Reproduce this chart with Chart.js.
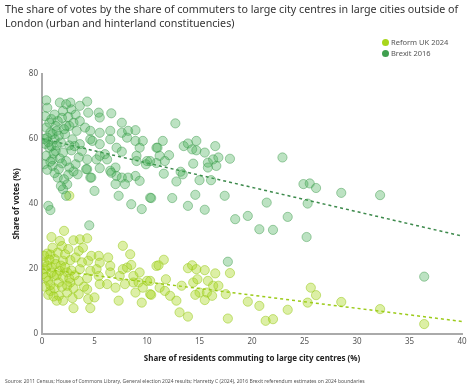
<!DOCTYPE html>
<html>
<head>
<meta charset="utf-8">
<script src="https://cdn.jsdelivr.net/npm/chart.js@4"></script>
<style>
  body { margin: 0; background: #fff; }
  #wrap { position: relative; width: 474px; height: 390px; font-family: "Noto Sans", sans-serif; }
  #title { position: absolute; left: 5px; top: 3px; font-size: 10.7px; line-height: 13.5px; color: #333; white-space: nowrap; }
  #legend { position: absolute; left: 382px; top: 37px; font-size: 7.5px; color: #555; line-height: 11px; }
  #legend span.dot { display: inline-block; width: 7px; height: 7px; border-radius: 50%; margin-right: 2px; vertical-align: -1px; }
  #source { position: absolute; left: 5px; top: 378px; font-size: 5px; color: #555; white-space: nowrap; }
  canvas { position: absolute; left: 0; top: 0; }
</style>
</head>
<body>
<div id="wrap">
  <canvas id="chart" width="474" height="390"></canvas>
  <div id="title">The share of votes by the share of commuters to large city centres in large cities outside of<br>London (urban and hinterland constituencies)</div>
  <div id="legend">
    <div><span class="dot" style="background:#a8d61c"></span>Reform UK 2024</div>
    <div><span class="dot" style="background:#3f9f4f"></span>Brexit 2016</div>
  </div>
  <div id="source">Source: 2011 Census; House of Commons Library, General election 2024 results; Hanretty C (2024), 2016 Brexit referendum estimates on 2024 boundaries</div>
</div>
<script>
// Brexit 2016 leave share vs commuting share
const brexitX = [0.4, 0.5, 1.7, 2.3, 2.7, 2.0, 2.8, 3.6, 4.3, 4.4, 5.4, 5.5, 6.6, 7.6, 0.9, 1.5, 0.4, 0.8, 2.3, 3.0,
  3.6, 3.3, 4.1, 4.6, 5.5, 6.5, 7.6, 8.2, 8.9, 8.1, 8.9, 9.6, 9.3, 10.9, 4.6, 5.5, 6.5, 7.1, 7.6, 5.5,
  6.0, 5.2, 6.2, 4.3, 3.8, 3.6, 9.0, 9.0, 10.0, 9.9, 10.9, 4.3, 5.5, 6.5, 7.0, 7.1, 7.6, 8.2, 8.9, 9.3,
  7.9, 7.0, 4.6, 5.0, 7.3, 8.5, 9.5, 10.3, 0.6, 0.8, 1.3, 2.6, 0.5, 1.2, 1.8, 2.9, 4.8, 0.7, 1.3, 2.0,
  0.4, 1.0, 2.3, 3.5, 0.2, 1.0, 1.6, 2.6, 3.2, 1.5, 2.1, 2.4, 3.4, 4.7, 4.2, 2.3, 2.0, 6.6, 12.7, 11.5,
  11.0, 11.2, 12.1, 11.7, 10.3, 13.5, 13.9, 14.3, 14.7, 14.7, 15.5, 16.5, 14.4, 15.8, 16.3, 16.8, 16.6, 15.8, 17.9, 11.6,
  13.2, 13.4, 12.8, 15.0, 16.1, 22.9, 24.9, 25.5, 26.1, 28.5, 32.2, 25.3, 10.4, 12.4, 14.6, 13.9, 15.5, 17.4, 21.4, 18.4,
  19.6, 23.4, 20.7, 22.0, 25.2, 17.7, 4.5, 36.4,
  0.3, 0.6, 1.0, 1.4, 0.2, 0.9, 1.6, 2.2, 2.6, 1.1, 1.9, 0.5, 1.2, 2.8, 3.1, 0.7, 1.2, 1.9, 2.5, 3.2,
  0.3, 1.4, 2.1, 0.8, 1.7, 3.0, 2.5, 1.8];
const brexitY = [71.9, 69.6, 71.2, 70.7, 71.2, 68.6, 69.1, 70.2, 71.5, 68.1, 68.1, 66.6, 67.9, 65.0, 66.1, 65.5, 63.5, 62.0, 64.0, 65.0,
  65.5, 62.5, 63.5, 62.5, 61.9, 62.5, 61.9, 62.5, 62.7, 60.4, 59.4, 59.4, 57.3, 57.3, 59.9, 58.4, 59.9, 57.3, 56.1, 54.8,
  55.3, 53.7, 53.7, 53.7, 56.3, 58.4, 54.8, 53.2, 53.2, 52.2, 52.6, 50.7, 51.0, 50.2, 51.2, 48.6, 48.1, 48.1, 48.6, 47.1,
  46.1, 46.1, 48.1, 44.0, 42.5, 39.9, 38.4, 41.9, 39.4, 38.1, 64.0, 64.0, 60.4, 59.9, 58.9, 59.9, 59.4, 57.3, 56.3, 55.8,
  54.8, 53.7, 53.2, 54.3, 52.2, 51.7, 50.7, 51.2, 52.2, 48.1, 47.6, 46.0, 49.1, 48.1, 50.7, 42.5, 44.5, 49.6, 64.8, 59.4,
  57.3, 54.8, 55.0, 53.2, 53.2, 57.8, 58.6, 56.8, 59.4, 56.5, 55.8, 57.8, 52.4, 52.7, 53.7, 54.3, 51.7, 51.2, 53.9, 49.3,
  49.9, 49.1, 46.9, 47.3, 47.3, 54.3, 46.1, 46.3, 44.9, 43.4, 42.7, 40.1, 41.8, 41.8, 42.8, 39.4, 38.2, 42.5, 40.4, 35.3,
  36.3, 36.0, 32.2, 32.0, 29.8, 22.2, 33.4, 17.6,
  58.5, 59.0, 61.5, 62.5, 60.0, 57.8, 61.0, 61.5, 58.0, 55.5, 52.5, 50.5, 49.5, 56.5, 57.8, 65.0, 67.5, 66.5, 66.8, 67.5,
  67.0, 58.0, 63.0, 53.0, 54.0, 50.0, 49.0, 45.5];

// Reform UK 2024 vote share vs commuting share
const reformX = [0.9, 2.1, 1.7, 2.5, 3.6, 4.3, 3.0, 3.5, 0.5, 0.8, 1.2, 2.0, 2.7, 4.4, 4.7, 5.4, 6.3, 5.5, 6.5, 5.2,
  3.6, 4.6, 2.4, 0.3, 0.1, 1.1, 1.7, 0.6, 1.6, 2.7, 3.5, 4.3, 5.4, 5.5, 4.3, 4.4, 4.6, 3.0, 5.0, 0.8,
  1.6, 2.0, 1.4, 2.4, 3.5, 7.3, 6.5, 6.2, 7.0, 7.7, 8.4, 7.7, 8.1, 8.5, 9.3, 8.7, 7.4, 7.9, 8.7, 9.2,
  10.0, 9.6, 8.9, 10.3, 9.5, 10.9, 11.6, 11.1, 10.3, 10.4, 11.8, 11.2, 11.7, 12.2, 12.8, 13.3, 13.1, 13.9, 13.9, 14.3,
  14.7, 15.5, 16.5, 14.4, 14.8, 15.8, 16.3, 16.8, 15.0, 14.6, 15.7, 16.2, 15.5, 17.5, 17.9, 19.6, 20.7, 17.7, 21.3, 22.0,
  23.4, 25.3, 25.6, 26.1, 28.5, 32.2, 36.4, 2.6,
  0.2, 0.5, 0.9, 1.3, 1.8, 2.2, 0.4, 0.9, 1.4, 2.0, 2.6, 3.1, 0.3, 0.8, 1.2, 1.9, 2.4, 3.0, 0.6, 1.1,
  2.9, 0.2, 1.5, 2.2, 3.2, 1.0, 3.8, 4.0, 3.9, 1.9, 2.8, 0.7];
const reformY = [29.8, 31.7, 28.6, 26.1, 29.1, 29.4, 28.8, 25.5, 24.7, 24.4, 23.0, 22.5, 22.7, 22.5, 24.0, 24.0, 23.5, 21.9, 20.9, 19.9,
  19.9, 19.4, 18.9, 19.9, 18.4, 17.8, 19.4, 16.3, 15.8, 15.8, 16.3, 17.1, 17.8, 15.3, 13.7, 10.7, 7.9, 7.9, 11.2, 13.2,
  11.7, 10.2, 10.2, 12.7, 12.2, 10.2, 18.9, 15.3, 14.2, 27.1, 24.5, 19.9, 20.4, 21.2, 18.9, 17.8, 17.8, 15.3, 15.8, 15.8,
  16.3, 14.2, 12.7, 12.2, 9.6, 20.9, 22.8, 21.1, 16.3, 12.0, 16.8, 14.2, 13.2, 11.7, 10.2, 14.8, 6.6, 5.3, 20.2, 21.1,
  19.9, 19.6, 18.6, 15.8, 16.8, 16.3, 14.8, 14.8, 12.7, 12.0, 12.7, 11.7, 10.4, 12.2, 18.7, 9.9, 8.6, 4.7, 4.0, 4.5,
  7.4, 9.6, 14.2, 11.9, 9.8, 7.6, 3.0, 42.5,
  22.0, 21.0, 20.5, 21.5, 21.0, 20.5, 17.5, 18.8, 18.0, 17.5, 17.0, 18.0, 14.5, 15.0, 14.0, 14.5, 14.8, 14.0, 12.0, 11.5,
  11.0, 24.0, 25.0, 24.5, 23.5, 26.5, 22.0, 14.5, 26.5, 27.0, 19.5, 22.8];

// fitted trend lines (end points)
const brexitTrendX = [0, 40];
const brexitTrendY = [60.1, 30.1];
const reformTrendX = [0, 40];
const reformTrendY = [20.0, 3.8];

const xTicks = [0, 5, 10, 15, 20, 25, 30, 35, 40];
const yTicks = [0, 20, 40, 60, 80];

const toPoints = (xs, ys) => xs.map((x, i) => ({ x: x, y: ys[i] }));

const ctx = document.getElementById("chart").getContext("2d");
new Chart(ctx, {
  type: "scatter",
  data: {
    datasets: [
      {
        label: "Brexit trend",
        type: "line",
        data: toPoints(brexitTrendX, brexitTrendY),
        borderColor: "#3d8a4c",
        borderWidth: 1.5,
        borderDash: [3, 3],
        pointRadius: 0,
        fill: false,
        order: 3
      },
      {
        label: "Reform trend",
        type: "line",
        data: toPoints(reformTrendX, reformTrendY),
        borderColor: "#9ccb1a",
        borderWidth: 1.5,
        borderDash: [3, 3],
        pointRadius: 0,
        fill: false,
        order: 3
      },
      {
        label: "Brexit 2016",
        data: toPoints(brexitX, brexitY),
        backgroundColor: "rgba(70, 175, 85, 0.36)",
        borderColor: "rgba(55, 150, 70, 0.45)",
        borderWidth: 1,
        pointRadius: 4.6,
        order: 1
      },
      {
        label: "Reform UK 2024",
        data: toPoints(reformX, reformY),
        backgroundColor: "rgba(168, 216, 30, 0.4)",
        borderColor: "rgba(150, 200, 20, 0.5)",
        borderWidth: 1,
        pointRadius: 4.6,
        order: 1
      }
    ]
  },
  options: {
    responsive: false,
    animation: false,
    layout: { padding: { top: 74, right: 12, bottom: 22, left: 0 } },
    plugins: {
      legend: { display: false },
      tooltip: { enabled: false }
    },
    scales: {
      x: {
        type: "linear",
        min: 0,
        max: 40,
        afterBuildTicks: (scale) => { scale.ticks = xTicks.map(v => ({ value: v })); },
        grid: { display: false, drawTicks: false },
        border: { display: true, color: "#aaaaaa", width: 2 },
        ticks: { color: "#555", font: { family: "Noto Sans", size: 8 }, padding: 3, maxRotation: 0 },
        title: {
          display: true,
          text: "Share of residents commuting to large city centres (%)",
          color: "#222",
          font: { family: "Noto Sans", size: 8, weight: "bold" },
          padding: { top: 5, bottom: 4 }
        }
      },
      y: {
        type: "linear",
        min: 0,
        max: 80,
        afterBuildTicks: (scale) => { scale.ticks = yTicks.map(v => ({ value: v })); },
        afterFit: (scale) => { scale.width = 42; },
        grid: { display: false, drawTicks: false },
        border: { display: true, color: "#aaaaaa", width: 2 },
        ticks: { color: "#555", font: { family: "Noto Sans", size: 8 }, padding: 4 },
        title: {
          display: true,
          text: "Share of votes (%)",
          color: "#222",
          font: { family: "Noto Sans", size: 8, weight: "bold" },
          padding: { top: 12, bottom: 0 }
        }
      }
    }
  }
});
</script>
</body>
</html>
